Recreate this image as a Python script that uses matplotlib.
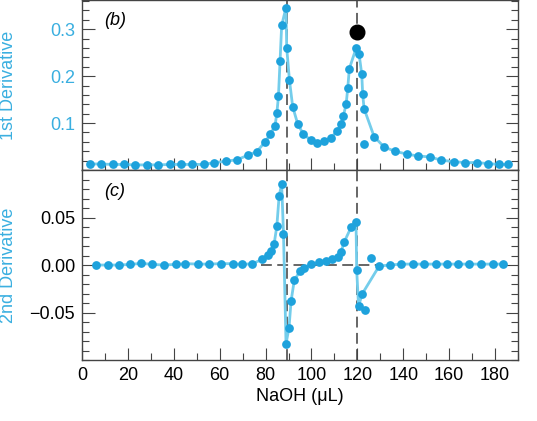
import matplotlib
matplotlib.use("Agg")
import matplotlib.pyplot as plt
from matplotlib.ticker import MultipleLocator

plt.rcParams['font.family'] = ['Liberation Sans', 'DejaVu Sans']

# -------- Data --------
# first derivative (panel b)
x1 = [3.5, 8.3, 13.3, 18.2, 23.2, 28.3, 33.3, 38.2, 43.2, 48.0, 53.0, 57.7,
      62.9, 67.5, 72.5, 76.1, 79.8, 82.0, 84.1, 84.9, 85.6, 86.3, 87.0, 88.9,
      89.2, 90.4, 91.8, 94.0, 96.5, 99.7, 102.6, 105.6, 108.5, 111.3, 112.9,
      113.9, 115.1, 115.8, 116.5, 119.4, 120.7, 121.9, 122.3, 122.9, 127.3,
      131.7, 136.4, 141.6, 146.3, 151.7, 156.5, 162.0, 166.8, 172.0, 176.7,
      181.5, 185.8]
y1 = [0.013, 0.013, 0.012, 0.012, 0.011, 0.011, 0.011, 0.012, 0.012, 0.012,
      0.012, 0.016, 0.019, 0.022, 0.032, 0.039, 0.060, 0.076, 0.094, 0.121,
      0.157, 0.232, 0.308, 0.346, 0.260, 0.191, 0.135, 0.098, 0.076, 0.064,
      0.057, 0.062, 0.069, 0.084, 0.099, 0.116, 0.140, 0.175, 0.216, 0.259,
      0.248, 0.204, 0.162, 0.131, 0.071, 0.049, 0.040, 0.034, 0.030, 0.028,
      0.021, 0.018, 0.016, 0.016, 0.014, 0.012, 0.012]
x1_off = [122.9]   # point lying off the curve
y1_off = [0.055]

# second derivative (panel c)
x2 = [6.1, 11.3, 16.3, 21.1, 25.9, 30.5, 35.6, 41.0, 45.0, 50.4, 55.5, 60.7,
      65.7, 69.9, 74.2, 78.6, 80.9, 82.4, 83.7, 84.9, 85.9, 87.0, 87.8, 88.9,
      90.2, 91.1, 92.5, 95.0, 96.9, 99.8, 103.3, 106.2, 109.1, 111.5, 112.9,
      114.3, 117.3, 119.4, 119.7, 120.5, 122.2, 129.5, 134.3, 139.1, 144.2,
      149.2, 154.3, 159.0, 164.0, 168.8, 173.9, 178.9, 183.4]
y2 = [0.000, 0.000, 0.000, 0.0007, 0.0018, 0.0007, 0.000, 0.0007, 0.0015,
      0.001, 0.001, 0.0015, 0.0014, 0.0007, 0.0014, 0.006, 0.011, 0.015,
      0.022, 0.041, 0.073, 0.085, 0.033, -0.083, -0.066, -0.038, -0.016,
      -0.0064, -0.0028, 0.0007, 0.003, 0.004, 0.006, 0.0085, 0.014, 0.0245,
      0.040, 0.045, -0.0057, -0.043, -0.030, -0.001, 0.000, 0.001, 0.001,
      0.001, 0.001, 0.001, 0.001, 0.001, 0.001, 0.001, 0.001]
x2_off = [123.4, 126.0]
y2_off = [-0.047, 0.007]

end_points = [89.2, 120.0]
marker_pt = (120.0, 0.294)

# -------- Style --------
PT = "#1ea2dc"
LN = "#74cdeb"
LABEL = "#3aafe0"
SPINE = "#444444"
DASH = "#5a5a5a"
MS = 6.3

fig = plt.figure(figsize=(5.37, 4.21), dpi=100)
ax1 = fig.add_axes([0.1527, 0.596, 0.812, 0.404])
ax2 = fig.add_axes([0.1527, 0.1449, 0.812, 0.4511], sharex=ax1)

for ax in (ax1, ax2):
    for s in ax.spines.values():
        s.set_color(SPINE)
        s.set_linewidth(1.0)
    ax.tick_params(which="both", direction="in", left=True, right=True,
                   bottom=True, top=False, color=SPINE, width=0.8, labelsize=13, pad=5)
    ax.tick_params(which="major", length=9)
    ax.tick_params(which="minor", length=5)
    for xv in end_points:
        ax.axvline(xv, color=DASH, lw=1.3, ls=(0, (6, 3)), zorder=1)

# panel b
ax1.plot(x1, y1, color=LN, lw=2.0, zorder=2)
ax1.plot(x1, y1, "o", color=PT, ms=MS, mec="none", zorder=3)
ax1.plot(x1_off, y1_off, "o", color=PT, ms=MS, mec="none", zorder=3)
ax1.plot(*marker_pt, "o", color="black", ms=10.5, zorder=4)
ax1.set_ylim(0, 0.362)
ax1.set_yticks([0.1, 0.2, 0.3])
ax1.set_yticklabels(["0.1", "0.2", "0.3"])
ax1.yaxis.set_minor_locator(MultipleLocator(0.02))
ax1.tick_params(axis="y", labelcolor=LABEL)
ax1.tick_params(axis="x", labelbottom=False)
ax1.set_ylabel("1st Derivative", color=LABEL, fontsize=13)
ax1.yaxis.set_label_coords(-0.15, 0.5)
ax1.text(0.05, 0.93, "(b)", transform=ax1.transAxes, fontsize=13,
         style="italic", va="top", ha="left")

# panel c
ax2.plot([78, 130], [0, 0], color=DASH, lw=1.3, ls=(0, (6, 3)), zorder=1)
ax2.plot(x2, y2, color=LN, lw=2.0, zorder=2)
ax2.plot(x2, y2, "o", color=PT, ms=MS, mec="none", zorder=3)
ax2.plot(x2_off, y2_off, "o", color=PT, ms=MS, mec="none", zorder=3)
ax2.set_ylim(-0.1, 0.1)
ax2.set_yticks([-0.05, 0.0, 0.05])
ax2.set_yticklabels(["\u22120.05", "0.00", "0.05"])
ax2.yaxis.set_minor_locator(MultipleLocator(0.01))
ax2.set_ylabel("2nd Derivative", color=LABEL, fontsize=13)
ax2.yaxis.set_label_coords(-0.15, 0.5)
ax2.text(0.05, 0.93, "(c)", transform=ax2.transAxes, fontsize=13,
         style="italic", va="top", ha="left")

ax2.set_xlim(0, 190)
ax2.set_xticks(range(0, 181, 20))
ax2.xaxis.set_minor_locator(MultipleLocator(10))
ax2.set_xlabel("NaOH (\u03bcL)", fontsize=13, labelpad=3)

fig.savefig("out.png", dpi=100)
